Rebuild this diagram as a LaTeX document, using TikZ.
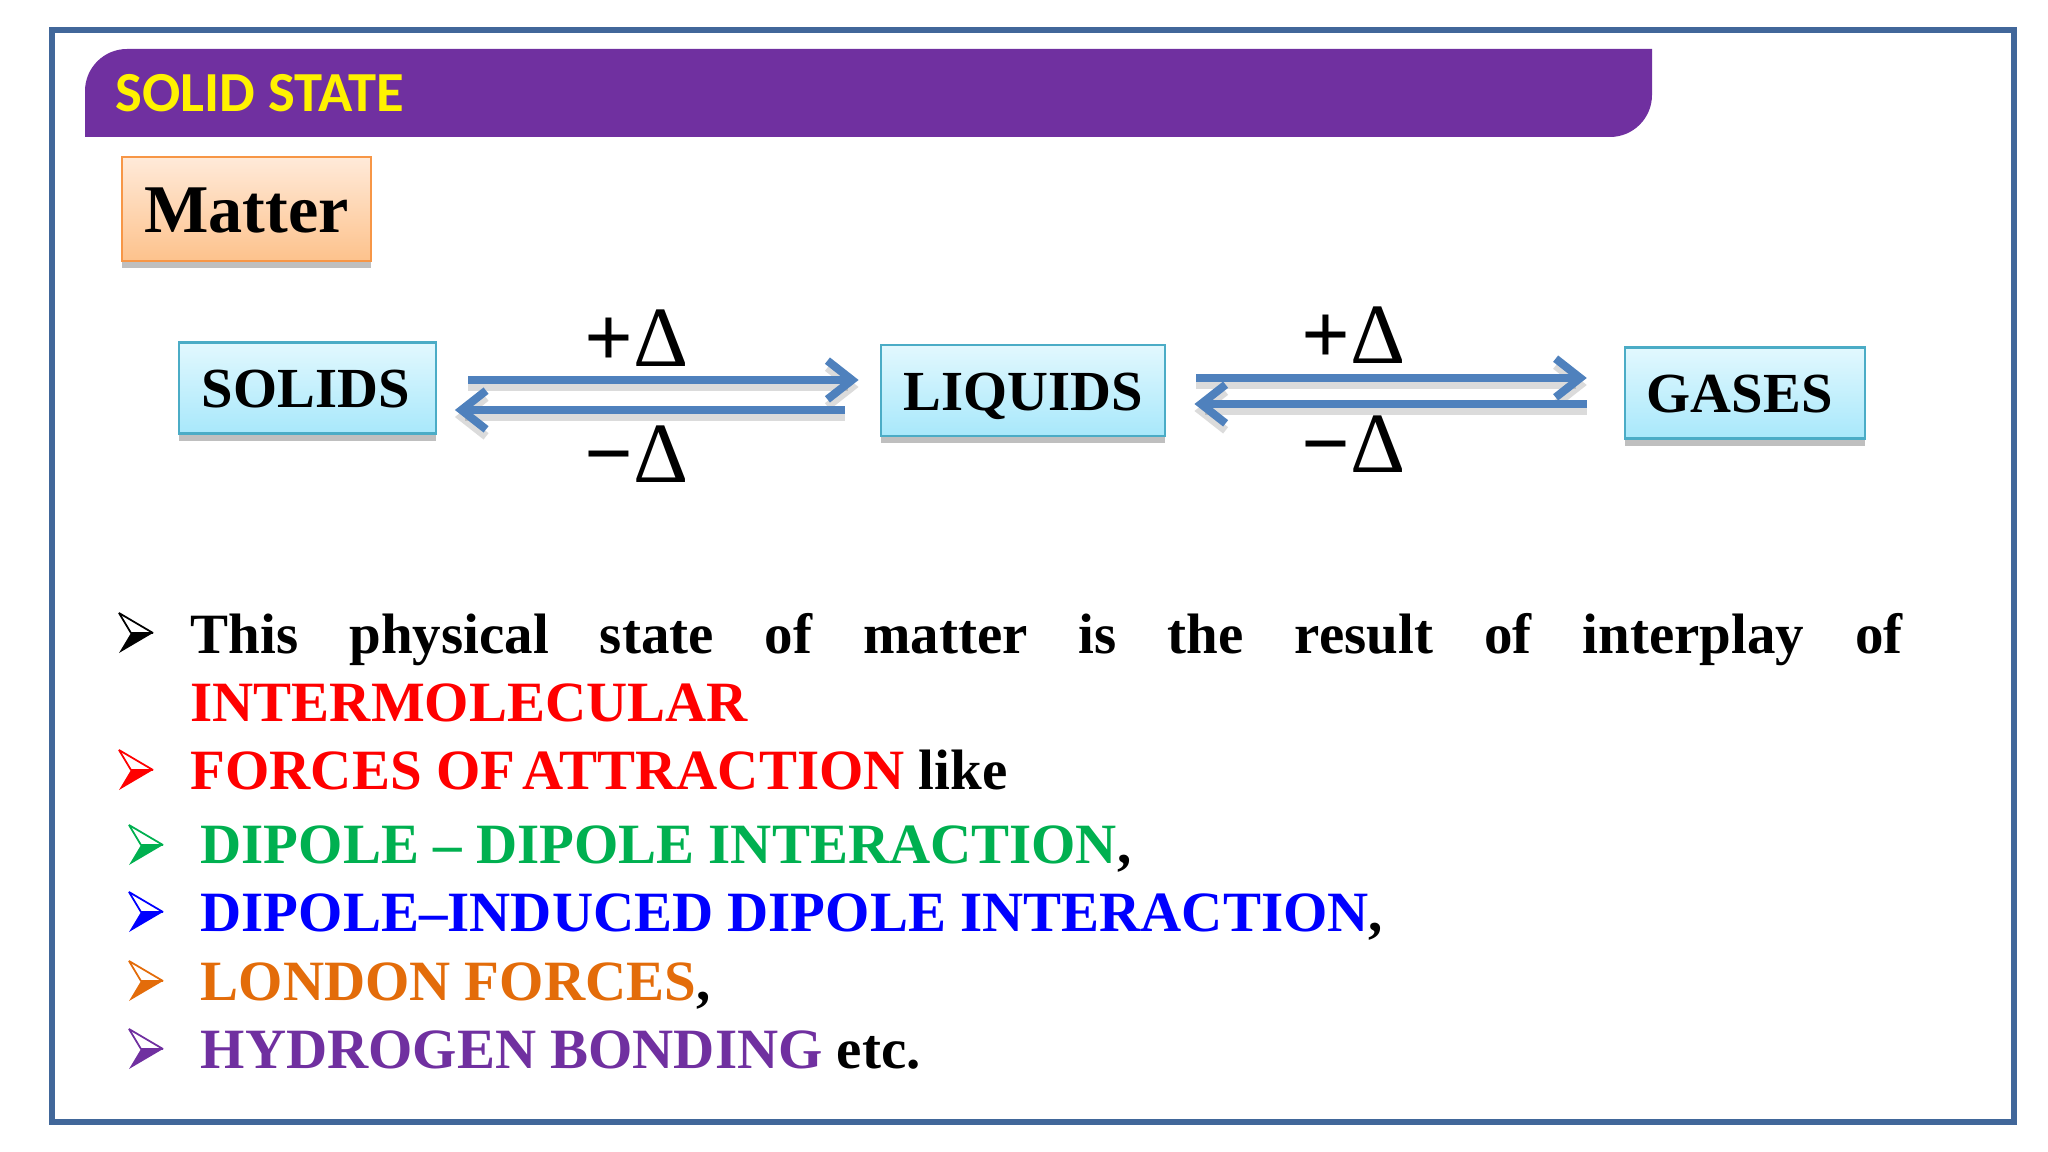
\documentclass[tikz,border=0pt]{standalone}
\usepackage{fontspec}
\setmainfont{Liberation Serif}
\newfontfamily\titlefont{Carlito}
\usetikzlibrary{calc, positioning, arrows.meta, shadows}
\definecolor{framec}{HTML}{41679A}
\definecolor{bannerc}{HTML}{7030A0}
\definecolor{flowc}{HTML}{4F81BD}
\definecolor{greenc}{HTML}{00B050}
\definecolor{orangec}{HTML}{E36C0A}
\definecolor{boxline}{HTML}{4BACC6}
\definecolor{boxtop}{HTML}{E2F8FE}
\definecolor{boxbottom}{HTML}{A8E8FB}
\definecolor{matterline}{HTML}{F79646}
\definecolor{mattertop}{HTML}{FFEAD9}
\definecolor{matterbottom}{HTML}{FDC28C}
\tikzstyle{softshadow}=[drop shadow={shadow xshift=0pt, shadow yshift=-2pt, opacity=.25, fill=black}]
\tikzstyle{statebox}=[softshadow, draw=boxline, line width=0.7pt, top color=boxtop, bottom color=boxbottom, inner sep=0pt, font=\fontsize{16.1}{20}\selectfont\bfseries, text height=11.3pt, text depth=0pt]
\tikzstyle{flow}=[draw=flowc, line width=2.3pt, -{Straight Barb[length=7pt, width=11pt, line width=2.3pt]}]
\tikzstyle{flowshadow}=[flow, draw=black, opacity=.14]
\tikzstyle{heat}=[anchor=base west, inner sep=0pt, font=\fontsize{24.4}{30}\selectfont]
\tikzstyle{txt}=[anchor=base west, inner sep=0pt, font=\fontsize{16.2}{20}\selectfont\bfseries]
\tikzset{
  bulletmark/.pic={
    \fill (-34,20) -- (-22,0) -- (0,0) -- cycle;
    \draw[line width=0.5pt, line join=bevel] (-34,-20) -- (0,0) -- (-22,0) -- cycle;
  }
}

\begin{document}
\begin{tikzpicture}[x=0.01cm, y=-0.01cm]
\useasboundingbox (0,0) rectangle (2048,1152);
% the frame and the banner
\draw[framec, line width=1.7pt] (52,30) rectangle (2014,1122);
\fill[bannerc] (85,137) [rounded corners=0.42cm] -- (85,49) [sharp corners] -- (1652,49) [rounded corners=0.42cm] -- (1652,137) [sharp corners] -- cycle;
\node[anchor=base west, inner sep=0pt, text=yellow, font=\titlefont\fontsize{16.1}{20}\selectfont\bfseries] (title) at (115,112) {SOLID STATE};
% the boxes
\node[softshadow, draw=matterline, line width=0.8pt, top color=mattertop, bottom color=matterbottom, minimum width=2.49cm, minimum height=1.04cm, inner sep=0pt, font=\fontsize{19.4}{24}\selectfont\bfseries, text height=13.5pt, text depth=0pt] (matter) at (246.5,209) {Matter};
\node[statebox, minimum width=2.57cm, minimum height=0.91cm] (solids) at (307.5,388) {SOLIDS\kern1pt};
\node[statebox, minimum width=2.84cm, minimum height=0.91cm] (liquids) at (1023,390.5) {LIQUIDS};
\node[statebox, minimum width=2.40cm, minimum height=0.91cm] (gases) at (1745,393) {GASES\kern3pt};
% the rows of the arrows
\coordinate (rowA) at (0,380);
\coordinate (rowB) at (0,410);
\coordinate (rowC) at (0,378);
\coordinate (rowD) at (0,404);
% the arrow shadows
\draw[flowshadow, shorten <=8.8pt, shorten >=6pt] ($(solids.east |- rowA)+(0,7)$) -- ($(liquids.west |- rowA)+(0,7)$);
\draw[flowshadow, shorten <=10pt, shorten >=5pt] ($(liquids.west |- rowB)+(0,7)$) -- ($(solids.east |- rowB)+(0,7)$);
\draw[flowshadow, shorten <=8.5pt, shorten >=10.5pt] ($(liquids.east |- rowC)+(0,7)$) -- ($(gases.west |- rowC)+(0,7)$);
\draw[flowshadow, shorten <=10.5pt, shorten >=8pt] ($(gases.west |- rowD)+(0,7)$) -- ($(liquids.east |- rowD)+(0,7)$);
% the arrows
\draw[flow, shorten <=8.8pt, shorten >=6pt] (solids.east |- rowA) -- (liquids.west |- rowA);
\draw[flow, shorten <=10pt, shorten >=5pt] (liquids.west |- rowB) -- (solids.east |- rowB);
\draw[flow, shorten <=8.5pt, shorten >=10.5pt] (liquids.east |- rowC) -- (gases.west |- rowC);
\draw[flow, shorten <=10.5pt, shorten >=8pt] (gases.west |- rowD) -- (liquids.east |- rowD);
% the heat labels
\node[heat] (plusA) at (584,367) {{\bfseries +}Δ};
\node[heat] (minusA) at (584,482) {{\bfseries −}Δ};
\node[heat] (plusB) at (1301,364) {{\bfseries +}Δ};
\node[heat] (minusB) at (1301,473) {{\bfseries −}Δ};
% the text lines
\node[txt] (lineA) at (190,653) {\makebox[17.11cm][s]{This physical state of matter is the result of interplay of}};
\node[txt, text=red] (lineB) at (190,721) {INTERMOLECULAR};
\node[txt] (lineC) at (190,789) {\textcolor{red}{FORCES OF\kern-1.9pt{} ATTRACTION} like};
\node[txt] (lineD) at (200,863) {\textcolor{greenc}{DIPOLE – DIPOLE INTERACTION},};
\node[txt] (lineE) at (200,931) {\textcolor{blue}{DIPOLE–INDUCED DIPOLE INTERACTION},};
\node[txt] (lineF) at (200,1000) {\textcolor{orangec}{LONDON FORCES},};
\node[txt] (lineG) at (200,1068) {\textcolor{bannerc}{HYDROGEN BONDING} etc.};
% the bullets
\pic[black] at (153,633) {bulletmark};
\pic[red] at (153,770) {bulletmark};
\pic[greenc] at (163,845) {bulletmark};
\pic[blue] at (163,912) {bulletmark};
\pic[orangec] at (163,981) {bulletmark};
\pic[bannerc] at (163,1049) {bulletmark};
\end{tikzpicture}
\end{document}
